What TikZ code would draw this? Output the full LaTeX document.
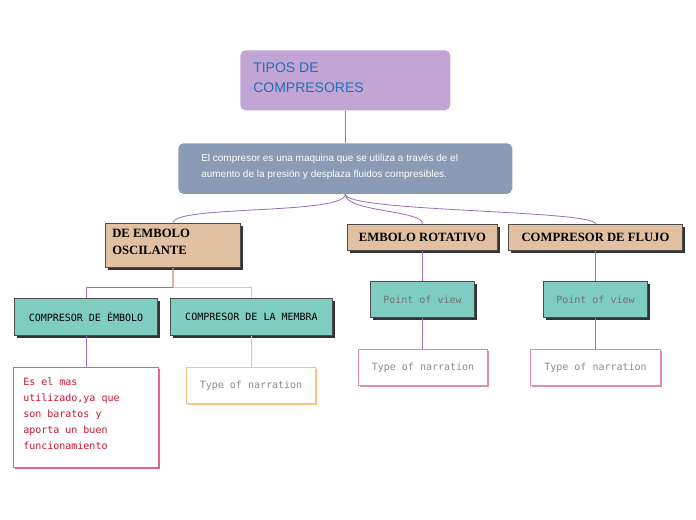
\documentclass[tikz,border=0pt]{standalone}
\usepackage{fontspec}
\setmainfont{Liberation Sans}
\newfontfamily\hdr{Liberation Serif}
\newfontfamily\mono{DejaVu Sans Mono}
\begin{document}
\begin{tikzpicture}[x=0.75pt,y=-0.75pt,
  l1/.style={fill={rgb,255:red,226;green,192;blue,162},draw=black!70,line width=0.7pt},
  tl/.style={fill={rgb,255:red,126;green,205;blue,192},draw=black!70,line width=0.7pt},
  wb/.style={fill=white,line width=0.8pt},
  con/.style={draw={rgb,255:red,155;green,110;blue,185},line width=0.6pt}]
\fill[white] (0,0) rectangle (696,520);
% title
\node[fill={rgb,255:red,195;green,165;blue,213},rounded corners=4pt,minimum width=157.5pt,minimum height=45pt,anchor=north west] (t) at (240,50) {};
\node[anchor=north west,align=left,text={rgb,255:red,31;green,111;blue,181},font=\fontsize{10.5}{15}\selectfont,inner sep=0pt] at (253,62) {TIPOS DE\\COMPRESORES};
% desc
\node[fill={rgb,255:red,138;green,155;blue,181},rounded corners=4pt,minimum width=250.5pt,minimum height=38pt,anchor=north west] (d) at (178,143) {};
\node[anchor=north west,align=left,text=white,font=\fontsize{7.5}{12}\selectfont,inner sep=0pt] at (201,154) {El compresor es una maquina que se utiliza a través de el\\aumento de la presión y desplaza fluidos compresibles.};
\draw[con,line width=1pt] (t.south) -- (d.north);
% shadows
\foreach \a/\b/\c/\e in {105/223/240/267,347/224/497/250,508/224/682/250,14/298/157/335,170/298/332/335,370/281/474/317,543/281/647/317}{
  \fill[black!80] (\a+3,\b+3) rectangle (\c+3,\e+3);}
\foreach \a/\b/\c/\e/\col in {358/349/487/385/purple!45,530/349/660/385/purple!45,13/367/158/467/purple!60,186/367/315/403/orange!50}{
  \fill[\col] (\a+2,\b+2) rectangle (\c+2,\e+2);}
% level 1
\node[l1,anchor=north west,minimum width=101.25pt,minimum height=33pt,inner sep=0pt] (o) at (105,223) {};
\node[anchor=north west,align=left,font=\hdr\bfseries\fontsize{9.5}{13}\selectfont,inner sep=0pt] at (112,229) {DE EMBOLO\\OSCILANTE};
\node[l1,anchor=north west,minimum width=112.5pt,minimum height=19.5pt,font=\hdr\bfseries\fontsize{9.5}{11}\selectfont] (r) at (347,224) {EMBOLO ROTATIVO};
\node[l1,anchor=north west,minimum width=130.5pt,minimum height=19.5pt,font=\hdr\bfseries\fontsize{9.5}{11}\selectfont] (f) at (508,224) {COMPRESOR DE FLUJO};
% teal
\node[tl,anchor=north west,minimum width=107.25pt,minimum height=27.75pt,font=\mono\fontsize{7.5}{9}\selectfont] (e) at (14,298) {COMPRESOR DE ÉMBOLO};
\node[tl,anchor=north west,minimum width=121.5pt,minimum height=27.75pt,font=\mono\fontsize{7.5}{9}\selectfont] (m) at (170,298) {COMPRESOR DE LA MEMBRA};
\node[tl,anchor=north west,minimum width=78pt,minimum height=27pt,text=black!55,font=\mono\fontsize{7.5}{9}\selectfont] (p1) at (370,281) {Point of view};
\node[tl,anchor=north west,minimum width=78pt,minimum height=27pt,text=black!55,font=\mono\fontsize{7.5}{9}\selectfont] (p2) at (543,281) {Point of view};
% white boxes
\node[wb,draw=purple!45,anchor=north west,minimum width=96.75pt,minimum height=27pt,text=black!45,font=\mono\fontsize{7.5}{9}\selectfont] (n1) at (358,349) {Type of narration};
\node[wb,draw=purple!45,anchor=north west,minimum width=97.5pt,minimum height=27pt,text=black!45,font=\mono\fontsize{7.5}{9}\selectfont] (n2) at (530,349) {Type of narration};
\node[wb,draw=orange!50,anchor=north west,minimum width=96.75pt,minimum height=27pt,text=black!45,font=\mono\fontsize{7.5}{9}\selectfont] (n3) at (186,367) {Type of narration};
\node[wb,draw=purple!60,anchor=north west,minimum width=108.75pt,minimum height=75pt] (rb) at (13,367) {};
\node[anchor=north west,align=left,text={rgb,255:red,200;green,20;blue,50},font=\mono\fontsize{7.5}{12}\selectfont,inner sep=0pt] at (23,378) {Es el mas\\utilizado,ya que\\son baratos y\\aporta un buen\\funcionamiento};
% connectors
\draw[con] (d.south) .. controls (345,215) and (173,205) .. (o.north);
\draw[con] (d.south) .. controls (345,212) and (423,210) .. (r.north);
\draw[con] (d.south) .. controls (345,212) and (596,210) .. (f.north);
\coordinate (j) at (173,287);
\draw[draw={rgb,255:red,200;green,140;blue,130},line width=0.8pt] (o.south) -- (j);
\draw[con] (j) -| (e.north);
\draw[draw=orange!50,line width=0.6pt] (j) -| (m.north);
\draw[con] (e.south) -- (e.south |- rb.north);
\draw[draw=orange!50,line width=0.6pt] (m.south) -- (m.south |- n3.north);
\draw[con] (r.south) -- (r.south |- p1.north);
\draw[con] (f.south) -- (f.south |- p2.north);
\draw[con] (p1.south) -- (p1.south |- n1.north);
\draw[con] (p2.south) -- (p2.south |- n2.north);
\end{tikzpicture}
\end{document}
